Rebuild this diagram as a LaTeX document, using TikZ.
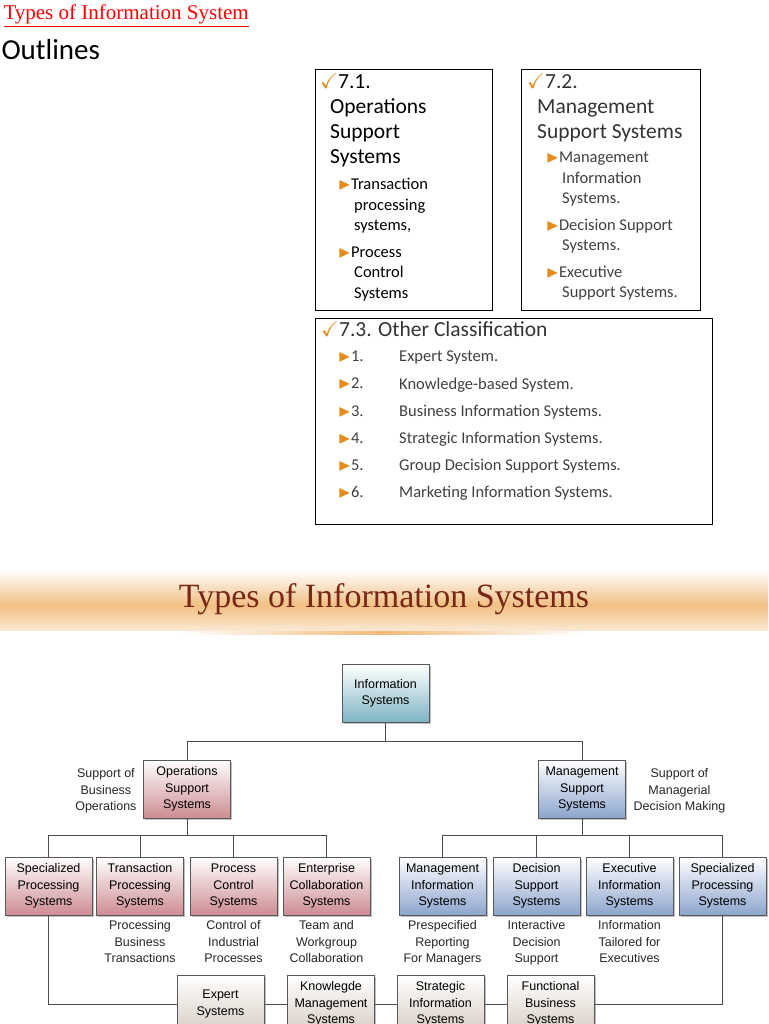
\documentclass[tikz,border=0pt]{standalone}
\usepackage{amssymb}
\usepackage{fontspec}
\setmainfont{Liberation Sans}
\newfontfamily\calfnt{Carlito}
\newfontfamily\tnrfnt{Liberation Serif}
\usetikzlibrary{shadows}
\definecolor{chk}{RGB}{230,140,30}
\definecolor{redbox}{RGB}{205,140,145}
\definecolor{bluebox}{RGB}{140,165,205}
\definecolor{tealbox}{RGB}{125,180,195}
\definecolor{tanbox}{RGB}{215,205,195}
\definecolor{ttl}{RGB}{120,40,20}
\newcommand{\myar}{\textcolor{chk}{$\blacktriangleright$}}
\begin{document}
\begin{tikzpicture}[x=1pt,y=-1pt,
 box/.style={draw=gray!70!black,minimum width=87pt,minimum height=58pt,align=center,font=\fontsize{12.5}{16.5}\selectfont,inner sep=1pt,drop shadow={shadow xshift=1.5pt,shadow yshift=-1.5pt,opacity=0.5}},
 rbox/.style={box,top color=white,bottom color=redbox},
 bbox/.style={box,top color=white,bottom color=bluebox},
 tbox/.style={box,top color=white,bottom color=tealbox},
 nbox/.style={box,top color=white,bottom color=tanbox},
 lab/.style={align=center,font=\fontsize{12.5}{16.5}\selectfont,text=black!85},
 conn/.style={draw=gray!60!black,line width=0.8pt},
 outl/.style={draw=black,line width=1pt}]
\useasboundingbox (0,0) rectangle (768,1024);
% top part
\node[anchor=west,font=\tnrfnt\fontsize{21}{24}\selectfont,text=red] (t1) at (0,16) {\underline{Types of Information System}};
\node[anchor=west,font=\calfnt\fontsize{29}{32}\selectfont] (t2) at (-2,50) {Outlines};
\draw[outl] (315,70) rectangle (492,310);
\draw[outl] (521,70) rectangle (700,310);
\draw[outl] (315,318) rectangle (712,524);
\node[anchor=north west,align=left,font=\calfnt\fontsize{21.5}{25}\selectfont,inner sep=0] (b1) at (320,73)
 {\textcolor{chk}{\checkmark}7.1.\\\hspace*{10pt}Operations\\\hspace*{10pt}Support\\\hspace*{10pt}Systems};
\node[anchor=north west,align=left,font=\calfnt\fontsize{16.5}{20.5}\selectfont,inner sep=0] (b1b) at (338,178)
 {\myar Transaction\\\hspace*{16pt}processing\\\hspace*{16pt}systems,\\[6pt]\myar Process\\\hspace*{16pt}Control\\\hspace*{16pt}Systems};
\node[anchor=north west,align=left,font=\calfnt\fontsize{21.5}{25}\selectfont,inner sep=0,text=black!80] (b2) at (527,73)
 {\textcolor{chk}{\checkmark}7.2.\\\hspace*{10pt}Management\\\hspace*{10pt}Support Systems};
\node[anchor=north west,align=left,font=\calfnt\fontsize{16.5}{20.5}\selectfont,inner sep=0,text=black!75] (b2b) at (546,152)
 {\myar Management\\\hspace*{16pt}Information\\\hspace*{16pt}Systems.\\[6pt]\myar Decision Support\\\hspace*{16pt}Systems.\\[6pt]\myar Executive\\\hspace*{16pt}Support Systems.};
\node[anchor=north west,font=\calfnt\fontsize{21.5}{25}\selectfont,inner sep=0,text=black!80] (b3) at (321,321) {\textcolor{chk}{\checkmark}7.3. Other Classification};
\node[anchor=north west,align=left,font=\calfnt\fontsize{16.5}{27.1}\selectfont,inner sep=0,text=black!75] (b3b) at (338,351)
 {\myar1.\\\myar2.\\\myar3.\\\myar4.\\\myar5.\\\myar6.};
\node[anchor=north west,align=left,font=\calfnt\fontsize{16.5}{27.1}\selectfont,inner sep=0,text=black!75] (b3c) at (399,351)
 {Expert System.\\Knowledge-based System.\\Business Information Systems.\\Strategic Information Systems.\\Group Decision Support Systems.\\Marketing Information Systems.};
% header band
\shade[top color=white,bottom color=chk!55] (0,570) rectangle (768,605);
\shade[top color=chk!55,bottom color=chk!20] (0,605) rectangle (768,630);
\shade[left color=white,right color=white,middle color=chk!60] (180,631) rectangle (585,634);
\node[font=\tnrfnt\fontsize{34}{36}\selectfont,text=ttl] (hd) at (384,599) {Types of Information Systems};
% chart
\node[tbox] (is) at (385.5,693.5) {Information\\Systems};
\node[rbox] (os) at (187,789) {Operations\\Support\\Systems};
\node[bbox] (ms) at (582,789) {Management\\Support\\Systems};
\node[lab,anchor=east] (osl) at (140,791) {Support of\\Business\\Operations};
\node[lab,anchor=west] (msl) at (630,791) {Support of\\Managerial\\Decision Making};
\foreach \n/\x/\t in {a/48.5/Specialized\\Processing\\Systems, b/140/Transaction\\Processing\\Systems, c/233.5/Process\\Control\\Systems, d/326.5/Enterprise\\Collaboration\\Systems}
 \node[rbox] (\n) at (\x,886) {\t};
\foreach \n/\x/\t in {e/442.5/Management\\Information\\Systems, f/536.5/Decision\\Support\\Systems, g/629.5/Executive\\Information\\Systems, h/722.5/Specialized\\Processing\\Systems}
 \node[bbox] (\n) at (\x,886) {\t};
\foreach \n/\x/\t in {b/140/Processing\\Business\\Transactions, c/233.5/Control of\\Industrial\\Processes, d/326.5/Team and\\Workgroup\\Collaboration, e/442.5/Prespecified\\Reporting\\For Managers, f/536.5/Interactive\\Decision\\Support, g/629.5/Information\\Tailored for\\Executives}
 \node[lab,anchor=north] (l\n) at (\x,917) {\t};
\node[nbox] (k1) at (220.5,1004) {Expert\\Systems};
\node[nbox] (k2) at (331,1004) {Knowlegde\\Management\\Systems};
\node[nbox] (k3) at (440.5,1004) {Strategic\\Information\\Systems};
\node[nbox] (k4) at (550.5,1004) {Functional\\Business\\Systems};
\draw[conn] (is.south) -- (385.5,741) -| (os.north);
\draw[conn] (385.5,741) -| (ms.north);
\draw[conn] (os.south) -- (187,835);
\draw[conn] (a.north) |- (187,835) -| (d.north);
\draw[conn] (b.north) -- (140,835) (c.north) -- (233.5,835);
\draw[conn] (ms.south) -- (582,835);
\draw[conn] (e.north) |- (582,835) -| (h.north);
\draw[conn] (f.north) -- (536.5,835) (g.north) -- (629.5,835);
\draw[conn] (a.south) |- (k1.west);
\draw[conn] (k1.east) -- (k2.west) (k2.east) -- (k3.west) (k3.east) -- (k4.west);
\draw[conn] (h.south) |- (k4.east);
\end{tikzpicture}
\end{document}
